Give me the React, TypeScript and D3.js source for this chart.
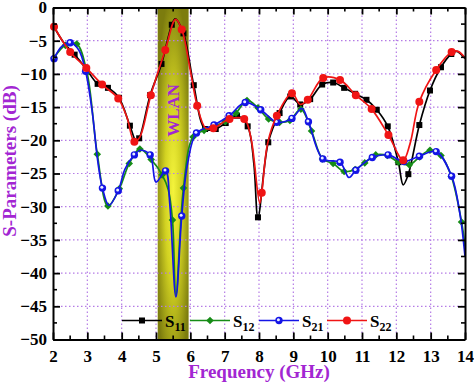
import React, { useEffect, useRef } from 'react';
import * as d3 from 'd3';

// [frequency GHz, dB, 1 = draw marker]
const s11 = [
  [2.03, -2.9, 0], [2.3, -5.2, 0], [2.63, -7.1, 1], [2.96, -9.2, 1], [3.3, -11.5, 1], [3.6, -12.1, 1],
  [3.92, -13.6, 1], [4.24, -17.8, 1], [4.42, -20.1, 0], [4.51, -19.7, 1], [4.83, -13.2, 1], [5.16, -8.5, 1],
  [5.46, -2.6, 1], [5.56, -1.7, 0], [5.8, -3.9, 1], [6.1, -11.7, 1], [6.43, -18.3, 1], [6.74, -18.3, 1],
  [7.03, -17.4, 1], [7.36, -16.3, 1], [7.67, -17.9, 1], [7.85, -23.5, 0], [7.97, -31.6, 1], [8.27, -20.3, 1],
  [8.6, -15.9, 1], [8.91, -13.4, 1], [9.2, -14.6, 1], [9.49, -13.8, 1], [9.84, -11.6, 1], [10.16, -11.3, 1],
  [10.48, -12.1, 1], [10.8, -13.0, 1], [11.13, -13.9, 1], [11.43, -15.4, 1], [11.75, -17.9, 1], [12.06, -23.3, 1],
  [12.2, -26.7, 0], [12.35, -25.1, 1], [12.67, -17.7, 1], [12.98, -12.5, 1], [13.3, -9.0, 1], [13.6, -7.0, 1],
  [13.76, -6.6, 0], [14.0, -7.7, 0],
];

const s12 = [
  [2.03, -7.6, 1], [2.36, -5.7, 1], [2.69, -5.5, 1], [2.99, -9.8, 1], [3.29, -22.1, 1], [3.6, -29.9, 1],
  [3.93, -27.3, 1], [4.22, -23.5, 1], [4.53, -21.3, 1], [4.86, -22.9, 1], [5.18, -25.2, 1], [5.36, -27.5, 0],
  [5.48, -32.0, 1], [5.58, -43.4, 0], [5.8, -27.2, 1], [6.08, -19.5, 1], [6.4, -18.5, 1], [6.72, -17.8, 1],
  [7.02, -17.2, 1], [7.33, -15.9, 1], [7.65, -14.0, 1], [7.97, -15.1, 1], [8.28, -16.8, 1], [8.6, -17.3, 1],
  [8.9, -17.0, 1], [9.22, -15.3, 1], [9.53, -18.6, 1], [9.85, -22.8, 1], [10.16, -23.5, 1], [10.48, -24.7, 1],
  [10.8, -24.4, 1], [11.08, -23.4, 1], [11.4, -22.2, 1], [11.74, -22.3, 1], [12.06, -23.3, 1], [12.38, -23.7, 1],
  [12.68, -22.5, 1], [12.98, -21.5, 1], [13.3, -22.3, 1], [13.6, -25.4, 1], [13.9, -32.3, 1], [14.0, -36.0, 0],
];

const s21 = [
  [2.03, -7.7, 1], [2.25, -5.9, 0], [2.5, -5.3, 1], [2.75, -6.4, 0], [2.95, -9.6, 1], [3.15, -16.0, 0],
  [3.3, -23.0, 0], [3.44, -27.2, 1], [3.63, -29.8, 0], [3.9, -27.6, 1], [4.1, -24.3, 0], [4.37, -22.2, 1],
  [4.55, -21.5, 0], [4.83, -22.2, 1], [5.0, -26.3, 0], [5.28, -24.6, 1], [5.4, -29.5, 0], [5.58, -43.6, 0],
  [5.75, -31.4, 1], [5.92, -23.5, 0], [6.18, -18.9, 1], [6.69, -17.7, 1], [7.13, -16.3, 1], [7.6, -14.3, 1],
  [8.05, -15.4, 1], [8.52, -17.3, 1], [8.96, -16.7, 1], [9.25, -15.2, 0], [9.44, -17.2, 1], [9.86, -22.8, 1],
  [10.36, -23.3, 1], [10.62, -25.6, 0], [10.82, -24.5, 1], [11.3, -22.6, 1], [11.76, -22.2, 1], [12.22, -23.2, 1],
  [12.67, -22.4, 1], [13.16, -21.7, 1], [13.61, -25.4, 1], [13.85, -31.0, 0], [14.0, -37.5, 0],
];

const s22 = [
  [2.03, -2.9, 1], [2.5, -6.7, 1], [2.97, -9.1, 1], [3.43, -11.6, 1], [3.9, -13.7, 1], [4.15, -16.5, 0],
  [4.37, -20.2, 1], [4.52, -19.6, 0], [4.85, -13.2, 1], [5.27, -6.4, 1], [5.57, -1.8, 0], [5.75, -3.3, 1],
  [6.0, -9.5, 0], [6.2, -14.8, 1], [6.45, -18.2, 0], [6.67, -18.2, 1], [7.14, -16.8, 1], [7.57, -16.8, 1],
  [7.76, -19.5, 0], [8.02, -29.5, 0], [8.08, -27.9, 1], [8.25, -20.5, 0], [8.52, -16.3, 1], [8.96, -12.9, 1],
  [9.2, -14.6, 0], [9.42, -13.9, 1], [9.87, -10.6, 1], [10.36, -10.9, 1], [10.82, -13.2, 1], [11.28, -15.3, 1],
  [11.77, -19.2, 1], [12.2, -23.0, 1], [12.4, -20.5, 0], [12.67, -14.2, 1], [13.16, -9.4, 1], [13.61, -6.7, 1],
  [13.8, -6.6, 0], [14.0, -7.6, 0],
];

const seriesNames = ['11', '12', '21', '22'];
const seriesColors = ['#000000', '#168c16', '#1414e6', '#f01414'];
const xTicks = [2, 3, 4, 5, 6, 7, 8, 9, 10, 11, 12, 13, 14];
const yTicks = [0, -5, -10, -15, -20, -25, -30, -35, -40, -45, -50];
const wlanBand = [5.05, 5.95];

const purple = '#a226d2';
const font = '"Liberation Serif", "Times New Roman", serif';

const App = () => {
  const svgRef = useRef(null);

  useEffect(() => {
    const svg = d3.select(svgRef.current);
    svg.selectAll('*').remove();

    const width = 474;
    const height = 384;
    const margin = { top: 7.5, right: 9, bottom: 44.5, left: 53 };
    const innerWidth = width - margin.left - margin.right;
    const innerHeight = height - margin.top - margin.bottom;

    const x = d3.scaleLinear().domain([2, 14]).range([0, innerWidth]);
    const y = d3.scaleLinear().domain([-50, 0]).range([innerHeight, 0]);

    const defs = svg.append('defs');
    const grad = defs.append('radialGradient')
      .attr('id', 'wlanGrad')
      .attr('cx', '50%').attr('cy', '55%').attr('r', '60%');
    grad.append('stop').attr('offset', '0%').attr('stop-color', '#f4f43c');
    grad.append('stop').attr('offset', '45%').attr('stop-color', '#d2d222');
    grad.append('stop').attr('offset', '100%').attr('stop-color', '#7c7c0e');

    const g = svg.append('g')
      .attr('transform', `translate(${margin.left},${margin.top})`);

    // WLAN band
    g.append('rect')
      .attr('x', x(wlanBand[0]))
      .attr('y', 0)
      .attr('width', x(wlanBand[1]) - x(wlanBand[0]))
      .attr('height', innerHeight)
      .attr('fill', 'url(#wlanGrad)');

    // dotted grid
    g.selectAll('.vgrid')
      .data(xTicks.slice(1, -1))
      .enter().append('line')
      .attr('x1', d => x(d)).attr('x2', d => x(d))
      .attr('y1', 0).attr('y2', innerHeight)
      .attr('stroke', '#b57ce6').attr('stroke-width', 1.2)
      .attr('stroke-dasharray', '1.5,2.5');
    g.selectAll('.hgrid')
      .data(yTicks.slice(1, -1))
      .enter().append('line')
      .attr('x1', 0).attr('x2', innerWidth)
      .attr('y1', d => y(d)).attr('y2', d => y(d))
      .attr('stroke', '#b57ce6').attr('stroke-width', 1.2)
      .attr('stroke-dasharray', '1.5,2.5');

    g.append('text')
      .attr('transform', `translate(${x((wlanBand[0] + wlanBand[1]) / 2) + 6},${y(-15.5)}) rotate(-90)`)
      .attr('text-anchor', 'middle')
      .attr('font-family', font).attr('font-weight', 'bold').attr('font-size', 17)
      .attr('fill', purple)
      .text('WLAN');

    const line = d3.line()
      .x(d => x(d[0]))
      .y(d => y(d[1]))
      .curve(d3.curveCatmullRom.alpha(0.5));

    const allSeries = [s11, s12, s21, s22];

    const drawMarker = (sel, i, color) => {
      if (i === 0) {
        sel.append('rect').attr('x', -3).attr('y', -3).attr('width', 6).attr('height', 6).attr('fill', color);
      } else if (i === 1) {
        sel.append('path').attr('d', 'M0,-3.8L3.8,0L0,3.8L-3.8,0Z').attr('fill', color);
      } else if (i === 2) {
        sel.append('circle').attr('r', 3.7).attr('fill', color);
        sel.append('circle').attr('cx', -0.6).attr('cy', -0.8).attr('r', 1.5).attr('fill', '#e8eeff');
      } else {
        sel.append('circle').attr('r', 4).attr('fill', color);
      }
    };

    allSeries.forEach((data, i) => {
      const color = seriesColors[i];
      g.append('path')
        .datum(data)
        .attr('d', line)
        .attr('fill', 'none')
        .attr('stroke', color)
        .attr('stroke-width', 1.7);
      g.selectAll(`.m${i}`)
        .data(data.filter(d => d[2] === 1))
        .enter().append('g')
        .attr('class', `m${i}`)
        .attr('transform', d => `translate(${x(d[0])},${y(d[1])})`)
        .each(function () { drawMarker(d3.select(this), i, color); });
    });

    // axes with inward ticks on all four sides
    const minorX = d3.range(2.5, 14, 1);
    const minorY = d3.range(-47.5, 0, 5);
    const styleAxis = (ax) => {
      ax.select('.domain').attr('stroke-width', 2);
      ax.selectAll('.tick line').attr('stroke-width', 1.8);
      ax.selectAll('text')
        .attr('font-family', font).attr('font-weight', 'bold').attr('font-size', 17).attr('fill', '#000');
    };

    const bottom = g.append('g').attr('transform', `translate(0,${innerHeight})`)
      .call(d3.axisBottom(x).tickValues(xTicks).tickSize(-7).tickSizeOuter(0).tickPadding(10).tickFormat(d3.format('d')));
    styleAxis(bottom);
    const top = g.append('g')
      .call(d3.axisTop(x).tickValues(xTicks).tickSize(-7).tickSizeOuter(0).tickFormat(() => ''));
    styleAxis(top);
    const left = g.append('g')
      .call(d3.axisLeft(y).tickValues(yTicks).tickSize(-7).tickSizeOuter(0).tickPadding(6).tickFormat(d3.format('d')));
    styleAxis(left);
    const right = g.append('g').attr('transform', `translate(${innerWidth},0)`)
      .call(d3.axisRight(y).tickValues(yTicks).tickSize(-7).tickSizeOuter(0).tickFormat(() => ''));
    styleAxis(right);

    const minor = g.append('g').attr('stroke', '#000').attr('stroke-width', 1.6);
    minorX.forEach(v => {
      minor.append('line').attr('x1', x(v)).attr('x2', x(v)).attr('y1', innerHeight).attr('y2', innerHeight - 4);
      minor.append('line').attr('x1', x(v)).attr('x2', x(v)).attr('y1', 0).attr('y2', 4);
    });
    minorY.forEach(v => {
      minor.append('line').attr('x1', 0).attr('x2', 4).attr('y1', y(v)).attr('y2', y(v));
      minor.append('line').attr('x1', innerWidth).attr('x2', innerWidth - 4).attr('y1', y(v)).attr('y2', y(v));
    });

    // legend
    const legendX = [122, 190, 259, 327];
    const legendY = 320.5;
    seriesNames.forEach((name, i) => {
      const lg = svg.append('g').attr('transform', `translate(${legendX[i]},${legendY})`);
      lg.append('line').attr('x1', 0).attr('x2', 40).attr('y1', 0).attr('y2', 0)
        .attr('stroke', seriesColors[i]).attr('stroke-width', 1.7);
      drawMarker(lg.append('g').attr('transform', 'translate(20,0)'), i, seriesColors[i]);
      const t = lg.append('text')
        .attr('x', 43).attr('y', 6.5)
        .attr('font-family', font).attr('font-weight', 'bold').attr('font-size', 17)
        .attr('fill', '#000');
      t.append('tspan').text('S');
      t.append('tspan').attr('dy', 4).attr('font-size', 12).text(name);
    });

    svg.append('text')
      .attr('x', 259)
      .attr('y', 378)
      .attr('text-anchor', 'middle')
      .attr('font-family', font).attr('font-weight', 'bold').attr('font-size', 19)
      .attr('fill', purple)
      .text('Frequency (GHz)');

    svg.append('text')
      .attr('transform', 'translate(16,161) rotate(-90)')
      .attr('text-anchor', 'middle')
      .attr('font-family', font).attr('font-weight', 'bold').attr('font-size', 19)
      .attr('fill', purple)
      .text('S-Parameters (dB)');
  }, []);

  return (
    <svg ref={svgRef} width="474" height="384" style={{ position: 'absolute', left: 0, top: 0, background: '#fff' }}></svg>
  );
};

export default App;
